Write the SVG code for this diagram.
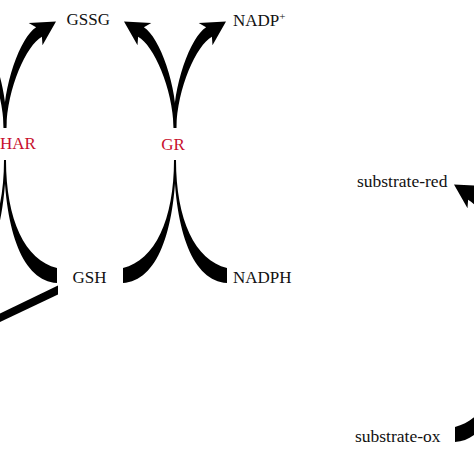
<svg xmlns="http://www.w3.org/2000/svg" xmlns:xlink="http://www.w3.org/1999/xlink" width="474" height="474" viewBox="0 0 474 474">
<style>
.lbl{font-family:"Liberation Serif","Times New Roman",serif;font-size:17px;fill:#111}
.enz{font-family:"Liberation Serif","Times New Roman",serif;font-size:17px;fill:#c8102e}
.sub{font-family:"Liberation Serif","Times New Roman",serif;font-size:17.5px;fill:#111}
.ink{fill:#000;stroke:none}
</style>
<defs>
<path id="armUp" class="ink" d="M1.3,0 C2.8,-42 -15.5,-91 -31.1,-100.7 L-23.7,-104.95 L-51,-106.6 L-37.5,-82.85 L-36.9,-91.3 C-21.5,-83 -2.2,-40 -1.3,0 Z"/>
<path id="armDown" class="ink" d="M-1,0 C-1,60 -20,100 -52,108 L-52,123 C-18,121 0,72 1,0 Z"/>
</defs>
<rect width="474" height="474" fill="#fff"/>
<g id="connectors">
<use xlink:href="#armUp" href="#armUp" transform="translate(175,128)"/>
<use xlink:href="#armUp" href="#armUp" transform="translate(175,128) scale(-1,1)"/>
<use xlink:href="#armDown" href="#armDown" transform="translate(175,160)"/>
<use xlink:href="#armDown" href="#armDown" transform="translate(175,160) scale(-1,1)"/>
<use xlink:href="#armUp" href="#armUp" transform="translate(5,128)"/>
<use xlink:href="#armUp" href="#armUp" transform="translate(5,128) scale(-1,1)"/>
<use xlink:href="#armDown" href="#armDown" transform="translate(5,160)"/>
<use xlink:href="#armDown" href="#armDown" transform="translate(5,160) scale(-1,1)"/>
<use xlink:href="#armUp" href="#armUp" transform="translate(505,291)"/>
<use xlink:href="#armDown" href="#armDown" transform="translate(507,319)"/>
<polygon class="ink" points="58,285.5 58,294.5 -2,323 -2,314.5"/>
</g>
<g id="node-GSSG"><text class="lbl" x="66.5" y="25">GSSG</text></g>
<g id="node-NADPplus"><text class="lbl" x="233" y="26">NADP<tspan font-size="11" dy="-6">+</tspan></text></g>
<g id="node-HAR"><text class="enz" x="0" y="148.5">HAR</text></g>
<g id="node-GR"><text class="enz" x="173" y="149.5" text-anchor="middle">GR</text></g>
<g id="node-GSH"><text class="lbl" x="72.5" y="283">GSH</text></g>
<g id="node-NADPH"><text class="lbl" x="233" y="283">NADPH</text></g>
<g id="node-substrate-red"><text class="sub" x="357" y="187">substrate-red</text></g>
<g id="node-substrate-ox"><text class="sub" x="355" y="441.5">substrate-ox</text></g>
</svg>
